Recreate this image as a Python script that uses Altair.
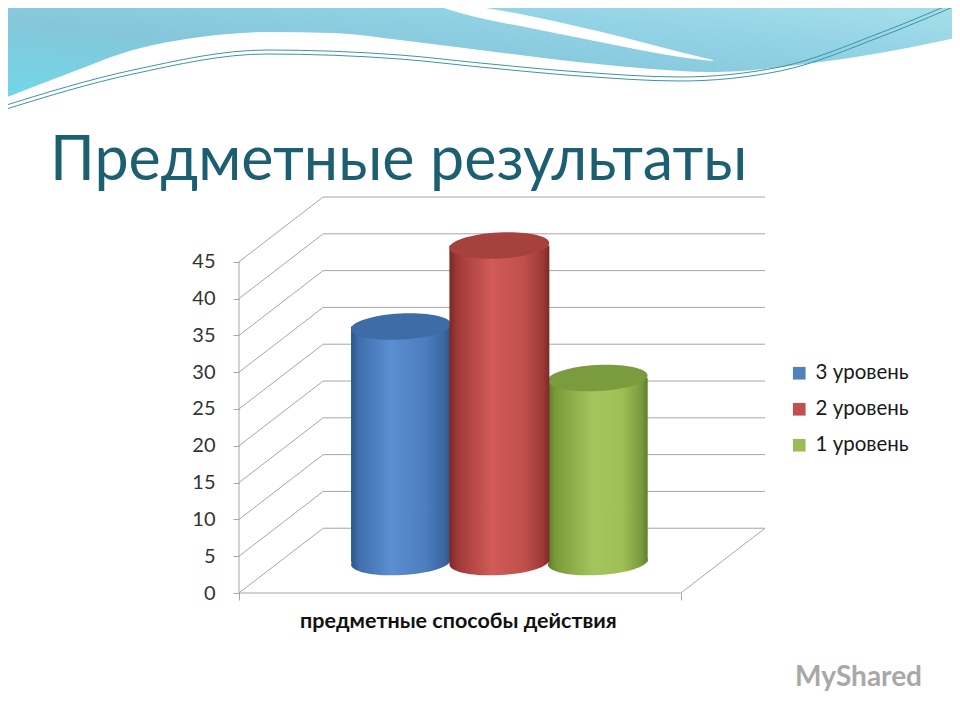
import altair as alt
import pandas as pd

# ---------------- data ----------------
categories = ["3 уровень", "2 уровень", "1 уровень"]
values = [32, 43, 25]
legend_colors = ["#4f81bd", "#c0504d", "#9bbb59"]
y_ticks = [0, 5, 10, 15, 20, 25, 30, 35, 40, 45]
title_text = "Предметные результаты"
axis_title = "предметные способы действия"
watermark = "MyShared"

# body gradients (left -> right) and top colours per series
body_stops = [
    [("#2c568a", 0), ("#3f6fad", 0.08), ("#5b8fd2", 0.4), ("#4c7dbd", 0.75), ("#3a65a0", 0.94), ("#2d5283", 1)],
    [("#7c2725", 0), ("#a03a37", 0.08), ("#d05b57", 0.42), ("#c04f4b", 0.75), ("#9c3835", 0.94), ("#7a2a28", 1)],
    [("#5e7b2b", 0), ("#7a9b3a", 0.08), ("#a4c55c", 0.45), ("#9dbf56", 0.75), ("#7a983c", 0.94), ("#607d2e", 1)],
]
top_colors = ["#3e6ca7", "#a6413d", "#7b9b3f"]

# decorative wave of the slide theme (page pixels)
wave_x = [0, 67, 133, 200, 267, 333, 400, 480, 560, 640, 713, 813, 880, 960]
wave_bottom = [100, 74, 50, 37, 32, 33, 40, 50, 60, 68, 72, 63, 53, 37]
swoosh_x = [423, 450, 480, 530, 580, 630, 680, 713]
swoosh_top = [0, 2, 7, 16, 27, 39, 52, 60]
swoosh_bot = [0, 10, 18, 28, 38, 48, 57, 61]
line_x = [0, 133, 267, 400, 480, 580, 680, 780, 880, 960]
line_y = [107, 70, 50, 55, 63, 72, 77, 67, 33, 0]

# ---------------- geometry ----------------
W, H = 526, 396
X_MAX = 100.0
Y_MAX = 53.8
PX_X = W / X_MAX
PX_Y = H / Y_MAX
ORIGIN_X, ORIGIN_Y = 239, 197          # page position of plot area
DX = 16.0                               # depth shift (x units)
DY = 8.8                                # depth shift (y units)
FRONT_RIGHT = 84.0
BAR_BASE = 4.2
BAR_R = 9.5
BAR_X0 = 30.8
BAR_STEP = 18.7
GRID = "#a6a6a6"
FONT = "Lato, Noto Sans, sans-serif"

X_SCALE = alt.Scale(domain=[0, X_MAX], nice=False, zero=False)
Y_SCALE = alt.Scale(domain=[0, Y_MAX], nice=False, zero=False)

X_AXIS = alt.Axis(values=[0, FRONT_RIGHT], labels=False, ticks=True, tickSize=7,
                  tickColor=GRID, domain=False, grid=False, title=axis_title,
                  titleFont=FONT, titleFontSize=21.5, titleFontWeight="bold",
                  titleColor="#111111", titleX=FRONT_RIGHT / 2 * PX_X - 2,
                  titleY=17, titleBaseline="top")
Y_AXIS = alt.Axis(values=y_ticks, tickSize=6, tickColor=GRID, domain=False,
                  grid=False, labelPadding=18, labelFont=FONT, labelFontSize=20,
                  labelColor="#333333", title=None)


def ux(px):
    return (px - ORIGIN_X) / PX_X


def uy(py):
    return (ORIGIN_Y + H - py) / PX_Y


def grad(stops):
    return alt.LinearGradient(
        gradient="linear",
        stops=[alt.GradientStop(color=c, offset=o) for c, o in stops],
        x1=0, x2=1, y1=0, y2=0,
    )


def xq(field):
    return alt.X(field, type="quantitative", scale=X_SCALE, axis=X_AXIS)


def yq(field):
    return alt.Y(field, type="quantitative", scale=Y_SCALE, axis=Y_AXIS)


# ---------------- decoration ----------------
wave_df = pd.DataFrame({"x": [ux(v) for v in wave_x],
                        "y": [uy(0)] * len(wave_x),
                        "y2": [uy(v) for v in wave_bottom]})
wave = alt.Chart(wave_df).mark_area(
    fill=alt.LinearGradient(gradient="linear",
                            stops=[alt.GradientStop(color="#6fd8e8", offset=0),
                                   alt.GradientStop(color="#85c6da", offset=0.4),
                                   alt.GradientStop(color="#93d3e6", offset=0.7),
                                   alt.GradientStop(color="#a9e0ea", offset=1)],
                            x1=0, x2=1, y1=1, y2=0),
    interpolate="monotone",
).encode(x=xq("x"), y=yq("y"), y2="y2")

sw_df = pd.DataFrame({"x": [ux(v) for v in swoosh_x],
                      "y": [uy(v) for v in swoosh_top],
                      "y2": [uy(v) for v in swoosh_bot]})
swoosh = alt.Chart(sw_df).mark_area(color="white", interpolate="monotone").encode(
    x=xq("x"), y=yq("y"), y2="y2")

ln_rows = []
for k, off in enumerate([0, 4]):
    for i, (a, b) in enumerate(zip(line_x, line_y)):
        ln_rows.append({"x": ux(a), "y": uy(b + off), "line": k, "ord": i})
lines = alt.Chart(pd.DataFrame(ln_rows)).mark_line(
    color="#3d95a5", strokeWidth=1, interpolate="monotone").encode(
    x=xq("x"), y=yq("y"), detail="line:N", order="ord:Q")

# ---------------- 3D frame ----------------
seg = []
for v in y_ticks:
    seg.append({"x": 0, "y": v, "x2": DX, "y2": v + DY})                  # side wall
    seg.append({"x": DX, "y": v + DY, "x2": X_MAX, "y2": v + DY})         # back wall
seg.append({"x": 0, "y": 0, "x2": 0, "y2": max(y_ticks)})                 # front axis
seg.append({"x": 0, "y": 0, "x2": FRONT_RIGHT, "y2": 0})                  # floor front
seg.append({"x": FRONT_RIGHT, "y": 0, "x2": X_MAX, "y2": DY})            # floor right
seg_df = pd.DataFrame(seg)

frame = alt.Chart(seg_df).mark_rule(color=GRID, strokeWidth=1).encode(
    x=xq("x"), x2="x2:Q", y=yq("y"), y2="y2:Q")

# ---------------- cylinders ----------------
k = 0.5523
b = 0.26
ellipse = (f"M -1 0 C -1 {-k*b:.4f} {-k:.4f} {-b} 0 {-b} "
           f"C {k:.4f} {-b} 1 {-k*b:.4f} 1 0 "
           f"C 1 {k*b:.4f} {k:.4f} {b} 0 {b} "
           f"C {-k:.4f} {b} -1 {k*b:.4f} -1 0 Z")
diam_px = 2 * BAR_R * PX_X
ell_size = diam_px ** 2

bar_layers = []
draw_order = [0, 2, 1]
for i in draw_order:
    cx = BAR_X0 + i * BAR_STEP
    df = pd.DataFrame({"cat": [categories[i]], "x": [cx - BAR_R], "x2": [cx + BAR_R],
                       "cx": [cx], "y": [BAR_BASE], "y2": [BAR_BASE + values[i]]})
    g = grad(body_stops[i])
    bottom = alt.Chart(df).mark_point(shape=ellipse, size=ell_size, filled=True, fill=g,
                                      opacity=1, strokeWidth=0, angle=357).encode(
        x=xq("cx"), y=yq("y"))
    body = alt.Chart(df).mark_rect(fill=g).encode(x=xq("x"), x2="x2", y=yq("y"), y2="y2")
    top = alt.Chart(df).mark_point(shape=ellipse, size=ell_size, filled=True,
                                   fill=top_colors[i], opacity=1, strokeWidth=0,
                                   angle=357).encode(x=xq("cx"), y=yq("y2"))
    bar_layers += [bottom, body, top]

# legend carrier (invisible marks, visible legend)
leg_df = pd.DataFrame({"cat": categories,
                       "cx": [BAR_X0 + i * BAR_STEP for i in range(3)],
                       "v": [BAR_BASE + v for v in values]})
legend_layer = alt.Chart(leg_df).mark_square(opacity=0, size=1).encode(
    x=xq("cx"), y=yq("v"),
    color=alt.Color("cat:N", scale=alt.Scale(domain=categories, range=legend_colors),
                    legend=alt.Legend(orient="none", legendX=550, legendY=166, title=None,
                                      symbolType="square", symbolSize=160, symbolOpacity=1,
                                      symbolStrokeWidth=0, labelFont=FONT, labelFontSize=20.5,
                                      labelColor="#1a1a1a", rowPadding=15, labelOffset=6,
                                      padding=0)),
)

# ---------------- texts ----------------
title = alt.Chart(pd.DataFrame({"t": [title_text]})).mark_text(
    font=FONT, fontSize=61, color="#1d5f72", align="left", baseline="alphabetic").encode(
    text="t:N", x=alt.value(50 - ORIGIN_X), y=alt.value(180 - ORIGIN_Y))

wm = alt.Chart(pd.DataFrame({"t": [watermark]})).mark_text(
    font=FONT, fontSize=28, color="#a8a8a8", align="right", baseline="alphabetic",
    fontWeight="bold").encode(
    text="t:N", x=alt.value(922 - ORIGIN_X), y=alt.value(686 - ORIGIN_Y))

chart = alt.layer(wave, swoosh, lines, frame, *bar_layers, legend_layer, title, wm).properties(
    width=W, height=H,
    autosize=alt.AutoSizeParams(type="none"),
    padding={"left": ORIGIN_X - 8, "top": ORIGIN_Y - 8, "right": 944 - (ORIGIN_X - 8) - W,
             "bottom": 704 - (ORIGIN_Y - 8) - H},
    background="white",
).configure_view(stroke=None)

chart.save("out.html", embed_options={"renderer": "svg", "actions": False})
